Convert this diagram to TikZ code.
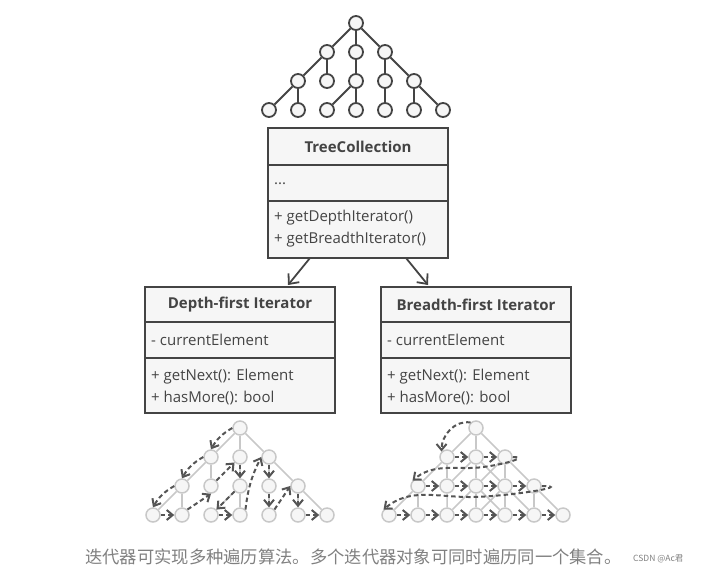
\documentclass[tikz,border=0pt]{standalone}
\usepackage{fontspec}
\setmainfont{Open Sans}
\newfontfamily\cjk{Noto Sans CJK SC}
\usetikzlibrary{arrows.meta,backgrounds}
\definecolor{dk}{HTML}{444444}
\definecolor{lg}{HTML}{C8C8C8}
\definecolor{fl}{HTML}{F6F6F6}
\definecolor{ar}{HTML}{555555}
\tikzset{
 tn/.style={circle,draw=dk,fill=fl,line width=1.8pt,minimum size=14pt,inner sep=0pt},
 tl/.style={circle,draw=lg,fill=fl,line width=1.5pt,minimum size=14pt,inner sep=0pt},
 te/.style={draw=dk,line width=1.8pt},
 tel/.style={draw=lg,line width=1.5pt},
 box/.style={draw=dk,fill=fl,line width=1.8pt},
 txt/.style={font=\fontsize{15}{22}\selectfont,text=dk,anchor=west,align=left,inner sep=0pt},
 hd/.style={font=\fontsize{15}{18}\selectfont\bfseries,text=dk,inner sep=0pt},
 da/.style={draw=ar,line width=2pt,dash pattern=on 4.5pt off 3pt,-{Straight Barb[length=6pt,width=10pt,line width=2pt]}},
 ua/.style={draw=dk,line width=1.8pt,-{Straight Barb[length=8pt,width=14pt]}},
}
\newcommand\mytree[4]{% prefix, cx, cy, style
 \node[#4] (#1r) at (#2,#3) {};
 \foreach \i/\x in {a/-29,b/0,c/29} \node[#4] (#1\i) at (#2+\x,#3+29) {};
 \foreach \i/\x in {a/-58,b/-29,c/0,d/29,e/58} \node[#4] (#1\i\i) at (#2+\x,#3+58) {};
 \foreach \i/\x in {1/-87,2/-58,3/-29,4/0,5/29,6/58,7/87} \node[#4] (#1\i) at (#2+\x,#3+87) {};
}
\newcommand\myedges[2]{%
 \begin{pgfonlayer}{background}
 \foreach \u/\v in {r/a,r/b,r/c,a/aa,a/bb,b/cc,c/dd,c/ee,aa/1,aa/2,cc/3,cc/4,dd/5,ee/6,ee/7}
  \draw[#2] (#1\u) -- (#1\v);
 \end{pgfonlayer}}
\begin{document}
\begin{tikzpicture}[x=1pt,y=-1pt]
\useasboundingbox (0,0) rectangle (708,574);
% top tree
\mytree{t}{356}{23}{tn}
\myedges{t}{te}
% TreeCollection
\draw[box] (268,128) rectangle (448,258);
\draw[te] (268,165) -- (448,165) (268,201) -- (448,201);
\node[hd] (tch) at (358,147) {TreeCollection};
\node[txt] (tcd) at (274,184) {...};
\node[txt] (tcm) at (274,229) {+ getDepthIterator()\\+ getBreadthIterator()};
\coordinate (tcl) at (310,258);
\coordinate (tcr) at (406,258);
\coordinate (dtop) at (288,285);
\coordinate (btop) at (428,285);
\draw[ua] (tcl) -- (dtop);
\draw[ua] (tcr) -- (btop);
% iterator boxes
\foreach \n/\x/\t in {d/145/Depth-first Iterator,b/381/Breadth-first Iterator}{
 \draw[box] (\x,287) rectangle (\x+190,413);
 \draw[te] (\x,322) -- (\x+190,322) (\x,358) -- (\x+190,358);
 \node[hd] (\n h) at (\x+95,304.5) {\t};
 \node[txt] (\n a) at (\x+6,340) {- currentElement};
 \node[txt] (\n m) at (\x+6,386.5) {+ getNext(): Element\\+ hasMore(): bool};
}
% depth tree
\mytree{L}{240}{428}{tl}
\myedges{L}{tel}
\draw[da] (Lr.west) to[bend right=15] (La.north);
\draw[da] (La.west) to[bend right=15] (Laa.north);
\draw[da] (Laa.west) to[bend right=15] (L1.north);
\draw[da] (L1.east) -- (L2.west);
\draw[da] (L2.north east) -- (Lbb.south);
\draw[da] (Lbb.north east) -- (Lb.south west);
\draw[da] (Lb.south) -- (Lcc.north);
\draw[da] (Lcc.south west) -- (L3.north east);
\draw[da] (L3.east) -- (L4.west);
\draw[da] (L4.north east) to[bend left=10] (Lc.west);
\draw[da] (Lc.south) -- (Ldd.north);
\draw[da] (Ldd.south) -- (L5.north);
\draw[da] (L5.north east) -- (Lee.west);
\draw[da] (Lee.south) -- (L6.north);
\draw[da] (L6.east) -- (L7.west);
% breadth tree
\mytree{R}{476}{428}{tl}
\myedges{R}{tel}
\begin{pgfonlayer}{background}
\draw[tel] (Rb) -- (Rbb) (Rb) -- (Rdd) (Rc) -- (Rcc) (Rbb) -- (R3) (Rdd) -- (R4) (Rcc) -- (R5) (Rdd) -- (R6);
\end{pgfonlayer}
\draw[da] (Rr.north west) to[out=170,in=90] (Ra.north west);
\draw[da] (Ra.east) -- (Rb.west);
\draw[da] (Rb.east) -- (Rc.west);
\draw[da] (Rc.east) to[out=0,in=0,looseness=1.2] (470,468) to[out=180,in=40] (Raa.north west);
\draw[da] (Raa.east) -- (Rbb.west);
\draw[da] (Rbb.east) -- (Rcc.west);
\draw[da] (Rcc.east) -- (Rdd.west);
\draw[da] (Rdd.east) -- (Ree.west);
\draw[da] (Ree.east) to[out=0,in=0,looseness=1.2] (470,497) to[out=180,in=40] (R1.north west);
\draw[da] (R1.east) -- (R2.west);
\draw[da] (R2.east) -- (R3.west);
\draw[da] (R3.east) -- (R4.west);
\draw[da] (R4.east) -- (R5.west);
\draw[da] (R5.east) -- (R6.west);
\draw[da] (R6.east) -- (R7.west);
% caption
\node[font=\cjk\fontsize{17.3}{20}\selectfont,text=gray,anchor=west,inner sep=0pt] (cap) at (85,557) {迭代器可实现多种遍历算法。多个迭代器对象可同时遍历同一个集合。};
\node[font=\cjk\fontsize{8.5}{10}\selectfont,text=gray,anchor=west,inner sep=0pt] (wm) at (633,559) {CSDN @Ac君};
\end{tikzpicture}
\end{document}
